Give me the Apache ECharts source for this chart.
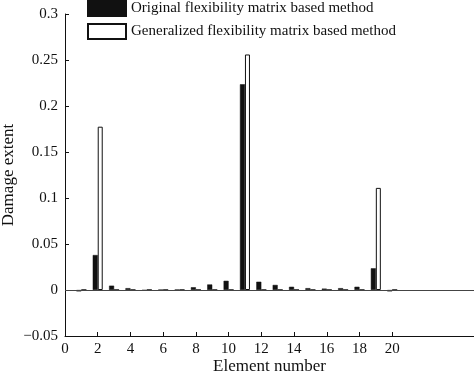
<!DOCTYPE html>
<html>
<head>
<meta charset="utf-8">
<script src="https://cdn.jsdelivr.net/npm/echarts@6/dist/echarts.min.js"></script>
<style>html,body{margin:0;padding:0;background:#fff}#c{width:474px;height:374px}</style>
</head>
<body>
<div id="c"></div>
<script>
const elements = [1,2,3,4,5,6,7,8,9,10,11,12,13,14,15,16,17,18,19,20];
const originalValues = [-0.0015,0.038,0.0047,0.002,-0.0005,0.0003,0.0005,0.003,0.006,0.010,0.2236,0.009,0.0055,0.0035,0.002,0.0015,0.002,0.0035,0.0236,-0.0015];
const generalizedValues = [0,0.1775,0,0,0,0,0,0,0,0,0.256,0,0,0,0,0,0,0,0.111,0];
const xTickLabels = [0,2,4,6,8,10,12,14,16,18,20];
const seriesNames = ['Original flexibility matrix based method','Generalized flexibility matrix based method'];

const font = 'Liberation Serif';
const chart = echarts.init(document.getElementById('c'), null, {renderer:'canvas'});
chart.setOption({
  animation:false,
  backgroundColor:'#fff',
  textStyle:{fontFamily:font},
  legend:{
    orient:'vertical', left:87, top:0, padding:0, itemWidth:38, itemHeight:15, itemGap:6,
    icon:'rect',
    textStyle:{fontFamily:font, fontSize:15, color:'#111'},
    data:seriesNames
  },
  grid:{left:65, right:0, top:14, bottom:38, containLabel:false, outerBoundsMode:'none'},
  xAxis:{
    type:'value', min:0, max:25, interval:2,
    name:'Element number', nameLocation:'middle', nameGap:22, nameMoveOverlap:false,
    nameTextStyle:{fontFamily:font, fontSize:17, color:'#111'},
    axisLine:{onZero:false, lineStyle:{color:'#111', width:1}},
    axisTick:{inside:true, length:4, lineStyle:{color:'#111'}, customValues:xTickLabels},
    axisLabel:{fontFamily:font, fontSize:15, color:'#111', margin:6, customValues:xTickLabels},
    splitLine:{show:false}
  },
  yAxis:{
    type:'value', min:-0.05, max:0.3, interval:0.05,
    name:'Damage extent', nameLocation:'middle', nameGap:48, nameMoveOverlap:false,
    nameTextStyle:{fontFamily:font, fontSize:17, color:'#111'},
    axisLine:{show:true, lineStyle:{color:'#111', width:1}},
    axisTick:{show:true, inside:true, length:4, lineStyle:{color:'#111'}},
    axisLabel:{fontFamily:font, fontSize:15, color:'#111', margin:7,
      formatter:function(v){ return String(+v.toFixed(2)).replace('-', '\u2212'); }},
    splitLine:{show:false}
  },
  series:[
    {
      name:seriesNames[0], type:'bar', barWidth:5, barGap:'0%',
      itemStyle:{color:'#111', borderColor:'#111', borderWidth:0.5},
      data:elements.map((e,i)=>[e, originalValues[i]]),
      markLine:{silent:true, symbol:'none', label:{show:false},
        lineStyle:{color:'#444', type:'solid', width:1},
        data:[{yAxis:0}]}
    },
    {
      name:seriesNames[1], type:'bar', barWidth:5, barGap:'0%',
      itemStyle:{color:'#fff', borderColor:'#111', borderWidth:1},
      data:elements.map((e,i)=>[e, generalizedValues[i]])
    }
  ]
});
</script>
</body>
</html>
